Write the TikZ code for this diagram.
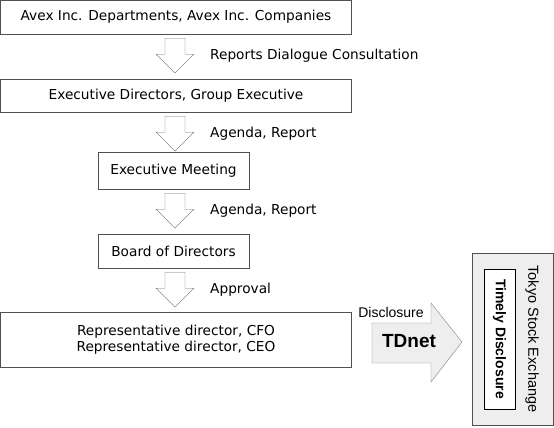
\documentclass[tikz,border=0pt]{standalone}
\usepackage{fontspec}
\setmainfont{DejaVu Sans}
\newfontfamily\arialfont{Liberation Sans}
\usetikzlibrary{positioning}
\definecolor{boxline}{HTML}{505050}
\definecolor{arrowline}{HTML}{6A6A6A}
\definecolor{paleGray}{HTML}{EEEEEE}
\tikzset{
  box/.style={draw=boxline, minimum height=34bp, inner sep=0pt, align=center,
    font=\fontsize{13.7bp}{16bp}\selectfont},
  note/.style={inner sep=0pt, anchor=west, font=\fontsize{13.7bp}{16bp}\selectfont},
  pics/downarrow/.style={code={
    \draw[draw=arrowline, fill=white] (-10,0) -- (10,0) -- (10,16) -- (19,16) -- (0,35)
      -- (-19,16) -- (-10,16) -- cycle;}}
}
\begin{document}
\begin{tikzpicture}[x=1bp, y=-1bp]
        \useasboundingbox (0,0) rectangle (554,427);
        % flow of the decision
        \node[box, minimum width=351bp] (b1) at (176,17) {Avex Inc. Departments, Avex Inc. Companies};
        \node[box, minimum width=351bp, minimum height=33bp] (b2) at (176,95.5) {Executive Directors, Group Executive};
        \node[box, minimum width=151bp, minimum height=37bp] (b3) at (173.5,170.5) {Executive Meeting};
        \node[box, minimum width=151bp] (b4) at (173.5,251) {Board of Directors};
        \node[box, minimum width=351bp, minimum height=55bp] (b5) at (176,339.5) {Representative director, CFO\\Representative director, CEO};
        \foreach \a/\t [count=\i] in {b1/Reports Dialogue Consultation, b2/{Agenda, Report}, b3/{Agenda, Report}, b4/Approval} {
            \coordinate (top\i) at (175,0 |- \a.south);
            \pic at ([yshift=-4bp]top\i) {downarrow};
            \node[note] (lbl\i) at ([shift={(35,21.5)}]top\i) {\t};
        }
        % disclosure to the exchange
        \node[draw=boxline, fill=paleGray, minimum width=81bp, minimum height=172bp, inner sep=0pt] (tse) at (512.5,339) {};
        \node[draw=black, fill=white, rotate=-90, minimum width=140bp, minimum height=31bp, inner sep=0pt,
            font=\arialfont\bfseries\fontsize{14bp}{16bp}\selectfont] (timely) at (499.5,339) {Timely Disclosure};
        \node[rotate=-90, font=\arialfont\fontsize{14.5bp}{16bp}\selectfont] (tsename) at (532,339) {Tokyo Stock Exchange};
        \draw[draw=gray, fill=paleGray] (372,323) -- (431,323) -- (431,303) -- (462,342) -- (431,382) -- (431,363) -- (372,363) -- cycle;
        \node[font=\arialfont\bfseries\fontsize{19bp}{22bp}\selectfont] (tdnet) at (409,341) {TDnet};
        \node[font=\arialfont\fontsize{14bp}{16bp}\selectfont] (discl) at (391,312) {Disclosure};
    \end{tikzpicture}
\end{document}
